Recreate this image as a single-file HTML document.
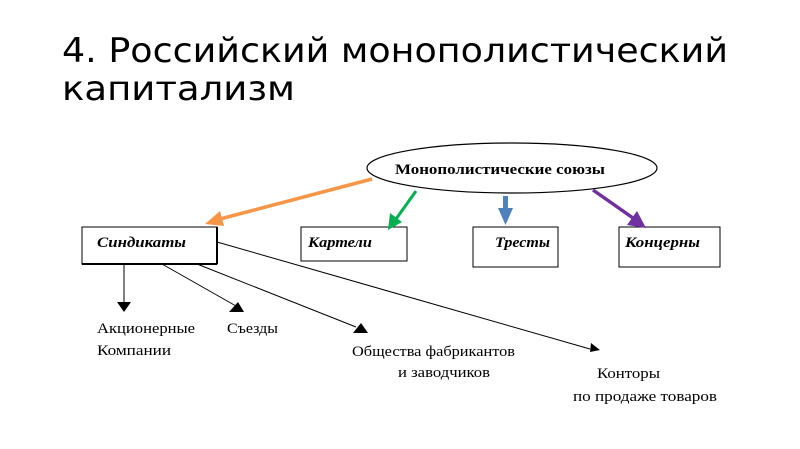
<!DOCTYPE html>
<html><head><meta charset="utf-8"><style>
html,body{margin:0;padding:0;background:#fff;}
svg{display:block;}
</style></head><body>
<svg width="800" height="449" viewBox="0 0 800 449" xmlns="http://www.w3.org/2000/svg">
<rect width="800" height="449" fill="#fff"/>
<text x="62" y="62" font-family="DejaVu Sans, sans-serif" font-size="34" fill="#000" textLength="666" lengthAdjust="spacingAndGlyphs">4. Российский монополистический</text>
<text x="62" y="100" font-family="DejaVu Sans, sans-serif" font-size="34" fill="#000" textLength="233" lengthAdjust="spacingAndGlyphs">капитализм</text>

<ellipse cx="512" cy="168" rx="145" ry="25" fill="#fff" stroke="#000" stroke-width="1.2"/>
<text x="395" y="174" font-family="Liberation Serif, serif" font-weight="bold" font-size="15" textLength="210" lengthAdjust="spacingAndGlyphs">Монополистические союзы</text>

<!-- boxes -->
<rect x="82" y="227" width="135" height="37" fill="#fff" stroke="#000" stroke-width="1"/>
<line x1="82" y1="264" x2="217" y2="264" stroke="#000" stroke-width="2"/>
<line x1="217" y1="227" x2="217" y2="264" stroke="#000" stroke-width="2"/>
<text x="97" y="247" font-family="Liberation Serif, serif" font-style="italic" font-weight="bold" font-size="15" textLength="89" lengthAdjust="spacingAndGlyphs">Синдикаты</text>

<rect x="301" y="227" width="106" height="34" fill="#fff" stroke="#000" stroke-width="1"/>
<text x="308" y="247" font-family="Liberation Serif, serif" font-style="italic" font-weight="bold" font-size="15" textLength="64" lengthAdjust="spacingAndGlyphs">Картели</text>

<rect x="473" y="227" width="85" height="40" fill="#fff" stroke="#000" stroke-width="1"/>
<text x="495" y="247" font-family="Liberation Serif, serif" font-style="italic" font-weight="bold" font-size="15" textLength="55" lengthAdjust="spacingAndGlyphs">Тресты</text>

<rect x="619" y="227" width="101" height="40" fill="#fff" stroke="#000" stroke-width="1"/>
<text x="625" y="247" font-family="Liberation Serif, serif" font-style="italic" font-weight="bold" font-size="15" textLength="75" lengthAdjust="spacingAndGlyphs">Концерны</text>

<!-- colored arrows -->
<line x1="372" y1="179" x2="220" y2="219" stroke="#f79646" stroke-width="3.5"/>
<polygon points="205,224 220,211 224,226" fill="#f79646"/>

<line x1="416" y1="191" x2="396" y2="219" stroke="#00b050" stroke-width="3"/>
<polygon points="388,230 390,213 402,222" fill="#00b050"/>

<rect x="503" y="196" width="5" height="13" fill="#4f81bd"/>
<polygon points="498,208 513,208 505.5,225" fill="#4f81bd"/>

<line x1="593" y1="190" x2="633" y2="218" stroke="#7030a0" stroke-width="3.5"/>
<polygon points="646,228 627,225 637,211" fill="#7030a0"/>

<!-- black arrows -->
<line x1="124" y1="264" x2="124" y2="303" stroke="#000" stroke-width="1"/>
<polygon points="117,302 131,302 124,312" fill="#000"/>

<line x1="162" y1="264" x2="236" y2="306" stroke="#000" stroke-width="1"/>
<polygon points="229,312 244,312 238,302" fill="#000"/>

<line x1="197" y1="264" x2="356" y2="327" stroke="#000" stroke-width="1"/>
<polygon points="353,333 368,333 361,323" fill="#000"/>

<line x1="217" y1="242" x2="590" y2="349" stroke="#000" stroke-width="1"/>
<polygon points="590,352 600,350 591,343" fill="#000"/>

<!-- labels -->
<g font-family="Liberation Serif, serif" font-size="15" fill="#000">
<text x="97" y="333" textLength="98" lengthAdjust="spacingAndGlyphs">Акционерные</text>
<text x="97" y="355" textLength="74" lengthAdjust="spacingAndGlyphs">Компании</text>
<text x="227" y="333" textLength="51" lengthAdjust="spacingAndGlyphs">Съезды</text>
<text x="352" y="356" textLength="163" lengthAdjust="spacingAndGlyphs">Общества фабрикантов</text>
<text x="398" y="377" textLength="92" lengthAdjust="spacingAndGlyphs">и заводчиков</text>
<text x="597" y="378" textLength="63" lengthAdjust="spacingAndGlyphs">Конторы</text>
<text x="573" y="401" textLength="144" lengthAdjust="spacingAndGlyphs">по продаже товаров</text>
</g>
</svg>
</body></html>
